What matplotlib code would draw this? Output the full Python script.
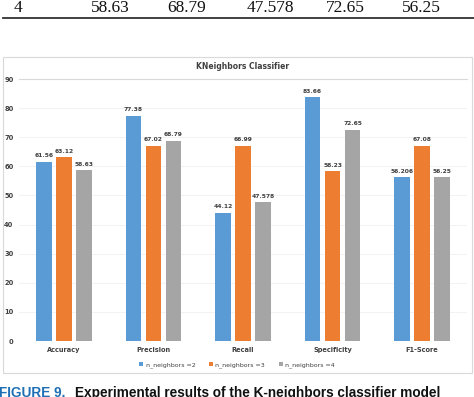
import numpy as np
from matplotlib import pyplot as plt
from matplotlib.patches import Rectangle

# data
metrics = ["Accuracy", "Precision", "Recall", "Specificity", "F1-Score"]
k2 = [61.56, 77.38, 44.12, 83.66, 56.206]
k3 = [63.12, 67.02, 66.99, 58.23, 67.08]
k4 = [58.63, 68.79, 47.578, 72.65, 56.25]
series_names = ["n_neighbors =2", "n_neighbors =3", "n_neighbors =4"]
table_row = ["4", "58.63", "68.79", "47.578", "72.65", "56.25"]

W, H = 474, 397
fig = plt.figure(figsize=(W / 100, H / 100), dpi=100)

def fx(px):
    return px / W

def fy(py):
    return 1 - py / H

# table row above the chart (part of the page crop)
table_x = [18, 110, 187, 270, 345, 421]
for xx, t in zip(table_x, table_row):
    fig.text(fx(xx), fy(8), t, ha="center", va="center", fontsize=12.5,
             family="Liberation Serif", color="#111111")
fig.add_artist(plt.Line2D([fx(3), fx(474)], [fy(18), fy(18)], color="#333333", lw=1.3))

# chart frame
fig.add_artist(Rectangle((fx(3), fy(373)), fx(469), (373 - 57) / H, fill=False,
                         edgecolor="#d9d9d9", lw=0.8, transform=fig.transFigure))

ax = fig.add_axes([fx(19), fy(341), fx(448), (341 - 79) / H])
x = np.arange(len(metrics))
w = 0.173
off = 0.223
colors = ["#5B9BD5", "#ED7D31", "#A5A5A5"]
for i, (vals, c, name) in enumerate(zip([k2, k3, k4], colors, series_names)):
    bars = ax.bar(x + (i - 1) * off, vals, w, color=c, label=name, zorder=3)
    for b, v in zip(bars, vals):
        ax.text(b.get_x() + b.get_width() / 2, v + 1.2, f"{v:.2f}" if v != 47.578 and v != 56.206 else f"{v:.3f}",
                ha="center", va="bottom", fontsize=4.3, fontweight="bold", color="#404040")

ax.set_xlim(-0.5, 4.5)
ax.set_ylim(0, 90)
ax.set_yticks(range(0, 91, 10))
ax.set_xticks(x)
ax.set_xticklabels(metrics)
ax.tick_params(axis="both", length=0, labelsize=4.8, colors="#404040")
ax.tick_params(axis="y", pad=4)
ax.tick_params(axis="x", pad=4)
for lab in ax.get_xticklabels() + ax.get_yticklabels():
    lab.set_fontweight("bold")
ax.grid(axis="y", color="#f0f0f0", lw=0.6, zorder=0)
for s in ["left", "right", "bottom"]:
    ax.spines[s].set_visible(False)
ax.spines["top"].set_color("#d9d9d9")
ax.spines["top"].set_linewidth(0.8)
ax.set_title("KNeighbors Classifier", fontsize=5.5, fontweight="bold", color="#404040", pad=7)

fig.legend(loc="center", bbox_to_anchor=(fx(237), fy(365)), ncol=3, frameon=False,
           fontsize=4.5, handlelength=0.6, handleheight=0.6, handletextpad=0.4,
           columnspacing=2.2, labelcolor="#404040")

# figure caption, cut off at the bottom of the crop
cap1 = fig.text(fx(-1), fy(386), "FIGURE 9.", ha="left", va="top", fontsize=9.8,
                fontweight="bold", color="#1f6fb5", family="Liberation Sans")
fig.canvas.draw()
bb = cap1.get_window_extent()
fig.text(fx(bb.x1 + 10), fy(386), "Experimental results of the K-neighbors classifier model",
         ha="left", va="top", fontsize=9.8, fontweight="bold", color="#111111",
         family="Liberation Sans")

fig.savefig("out.png", dpi=100)
